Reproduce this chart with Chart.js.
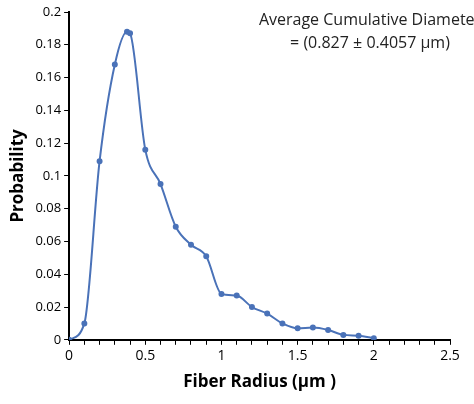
<!DOCTYPE html>
<html><head><script src="https://cdn.jsdelivr.net/npm/chart.js@4"></script>
<style>body{margin:0;background:#fff}#w{width:474px;height:404px}</style></head>
<body><div id="w"><canvas id="c"></canvas></div>
<script>
const radius=[0,0.1,0.2,0.3,0.38,0.4,0.5,0.6,0.7,0.8,0.9,1.0,1.1,1.2,1.3,1.4,1.5,1.6,1.7,1.8,1.9,2.0];
const prob=[0,0.01,0.109,0.168,0.188,0.187,0.116,0.095,0.069,0.058,0.051,0.028,0.027,0.02,0.016,0.010,0.007,0.0075,0.006,0.003,0.0025,0.001];
const annot=["Average Cumulative Diameter","= (0.827 ± 0.4057 µm)"];
const txt={id:'txt',afterDraw(ch){const c=ch.ctx,a=ch.chartArea;c.save();c.font='16px "Open Sans"';c.fillStyle='#222';c.textAlign='center';
c.fillText(annot[0],a.right-80,25);c.fillText(annot[1],a.right-80,48);c.restore();}};
new Chart(document.getElementById('c'),{type:'scatter',
data:{datasets:[{data:radius.map((x,i)=>({x,y:prob[i]})),showLine:true,tension:0.4,cubicInterpolationMode:'monotone',borderColor:'#4a72b8',backgroundColor:'#4a72b8',borderWidth:2,pointRadius:2}]},
options:{responsive:true,maintainAspectRatio:false,animation:false,layout:{padding:{top:12,right:24,left:4,bottom:8}},
plugins:{legend:{display:false},tooltip:{enabled:false}},
scales:{x:{type:'linear',min:0,max:2.5,border:{color:'#000',width:2},grid:{drawOnChartArea:false,color:'#000',tickLength:5},
ticks:{stepSize:0.1,autoSkip:false,maxRotation:0,color:'#000',font:{size:14,family:'"Open Sans"'},callback:v=>{const r=Math.round(v*10);return r%5===0?String(r/10):'';}},
title:{display:true,text:'Fiber Radius (µm )',color:'#000',font:{size:17,weight:'bold',family:'"Open Sans"'}}},
y:{min:0,max:0.2,border:{color:'#000',width:2},grid:{drawOnChartArea:false,color:'#000',tickLength:5},
ticks:{stepSize:0.02,color:'#000',font:{size:13,family:'"Open Sans"'},callback:v=>String(Math.round(v*100)/100)},
title:{display:true,text:'Probability',color:'#000',font:{size:17,weight:'bold',family:'"Open Sans"'}}}}},
plugins:[txt]});
</script></body></html>
